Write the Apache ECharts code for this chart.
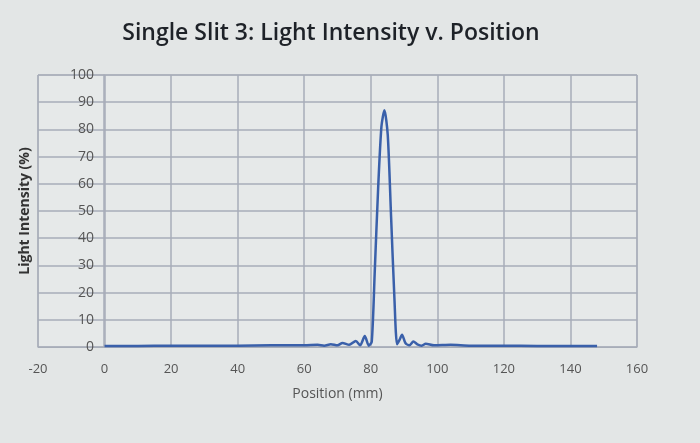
<!DOCTYPE html>
<html>
<head>
<meta charset="utf-8">
<script src="https://cdn.jsdelivr.net/npm/echarts@6/dist/echarts.min.js"></script>
<style>
  html, body { margin: 0; padding: 0; background: #e3e6e6; }
  #chart { width: 700px; height: 443px; }
</style>
</head>
<body>
<div id="chart"></div>
<script>
// position (mm) and light intensity (%)
const positions = [0, 10, 20, 30, 40, 50, 60, 64, 66, 68, 70, 71.5, 73.5, 75.5, 76.8, 78.2, 79.4, 80.3, 81.2, 82.2, 83.2, 84.1, 85.1, 86.1, 87.1, 87.9, 88.6, 89.4, 90.4, 91.6, 92.8, 94, 95.3, 96.5, 99, 104, 110, 120, 130, 140, 148];
const intensity = [0.4, 0.4, 0.5, 0.5, 0.5, 0.6, 0.6, 0.8, 0.5, 1.0, 0.6, 1.5, 0.8, 2.2, 0.6, 4.0, 0.5, 2, 28, 58, 81, 87, 78, 48, 18, 1, 2.5, 4.5, 1.5, 0.6, 2, 1, 0.5, 1.2, 0.6, 0.8, 0.5, 0.5, 0.4, 0.4, 0.4];

const titleText = "Single Slit 3: Light Intensity v. Position";
const xName = "Position (mm)";
const yName = "Light Intensity (%)";

let chart = echarts.init(document.getElementById("chart"));

let option = {
  backgroundColor: "#e3e6e6",
  title: {
    text: titleText,
    left: 326,
    top: 17,
    textAlign: "center",
    textStyle: {
      fontFamily: "Open Sans",
      fontSize: 23,
      fontWeight: 600,
      color: "#1e2228",
    },
  },
  grid: {
    left: 38,
    right: 63,
    top: 75,
    bottom: 96,
    outerBoundsMode: "none",
    containLabel: false,
    show: true,
    borderColor: "#a7adb8",
    borderWidth: 1,
    backgroundColor: "#e6e9e9",
  },
  xAxis: {
    type: "value",
    min: -20,
    max: 160,
    interval: 20,
    name: xName,
    nameLocation: "middle",
    nameGap: 40,
    nameTextStyle: { fontFamily: "Open Sans", fontSize: 14, color: "#555" },
    axisLine: { onZero: false, lineStyle: { color: "#a7adb8" } },
    axisTick: { show: false },
    axisLabel: { fontFamily: "Open Sans", fontSize: 13, color: "#555", margin: 16 },
    splitLine: { show: true, lineStyle: { color: "#a7adb8", width: 1.5 } },
  },
  yAxis: {
    type: "value",
    min: 0,
    max: 100,
    interval: 10,
    offset: -66,
    name: yName,
    nameLocation: "middle",
    nameGap: 72,
    nameRotate: 90,
    nameTextStyle: { fontFamily: "Open Sans", fontSize: 14, fontWeight: "bold", color: "#333" },
    axisLine: { show: true, onZero: false, lineStyle: { color: "#a7adb8", width: 1.5 } },
    axisTick: { show: false },
    axisLabel: { fontFamily: "Open Sans", fontSize: 14, color: "#555", margin: 10 },
    splitLine: { show: true, lineStyle: { color: "#a7adb8", width: 1.5 } },
  },
  series: [
    {
      type: "line",
      data: positions.map((x, i) => [x, intensity[i]]),
      showSymbol: false,
      smooth: 0.25,
      lineStyle: { color: "#3a60aa", width: 2.5 },
      silent: true,
    },
  ],
};

chart.setOption(option);
</script>
</body>
</html>
